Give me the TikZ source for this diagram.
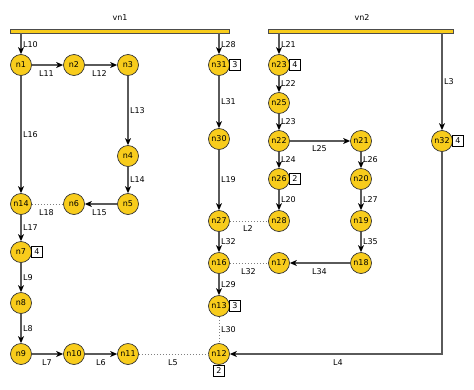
\documentclass[tikz,border=0pt]{standalone}
\usepackage{fontspec}
\setmainfont{DejaVu Sans}
\usetikzlibrary{arrows.meta}
\definecolor{gold}{RGB}{248,204,28}
\definecolor{edgegray}{RGB}{90,90,90}
\begin{document}
\begin{tikzpicture}[x=1pt,y=-1pt,font=\fontsize{8}{9.5}\selectfont,
  nd/.style={circle,draw=black!80,fill=gold,line width=0.7pt,minimum size=21pt,inner sep=0pt},
  bar/.style={draw=black!70,fill=gold,line width=0.6pt},
  tag/.style={draw=black,line width=0.6pt,fill=white,minimum width=11pt,minimum height=11pt,inner sep=0pt},
  ed/.style={draw=edgegray,line width=1.1pt,-{Stealth[length=7pt,width=6pt,inset=2pt,black]}},
  dt/.style={draw=gray,line width=1pt,dotted},
  lb/.style={inner sep=1pt,anchor=west}]
\useasboundingbox (0,0) rectangle (474,389);
% bars
\draw[bar] (10,29) rectangle (229,33);
\draw[bar] (268,29) rectangle (453,33);
\node at (120,18) {vn1};
\node at (362,18) {vn2};
\coordinate (b1) at (21,33);
\coordinate (b31) at (219,33);
\coordinate (b23) at (279,33);
\coordinate (b32) at (442,33);
\coordinate (c4) at (442,354);
% nodes
\node[nd] (n1) at (21,65) {n1};
\node[nd] (n2) at (74,65) {n2};
\node[nd] (n3) at (128,65) {n3};
\node[nd] (n31) at (219,65) {n31};
\node[nd] (n30) at (219,139) {n30};
\node[nd] (n4) at (128,156) {n4};
\node[nd] (n14) at (21,204) {n14};
\node[nd] (n6) at (74,204) {n6};
\node[nd] (n5) at (128,204) {n5};
\node[nd] (n7) at (21,252) {n7};
\node[nd] (n8) at (21,303) {n8};
\node[nd] (n9) at (21,354) {n9};
\node[nd] (n10) at (74,354) {n10};
\node[nd] (n11) at (128,354) {n11};
\node[nd] (n12) at (219,354) {n12};
\node[nd] (n27) at (219,221) {n27};
\node[nd] (n16) at (219,263) {n16};
\node[nd] (n13) at (219,306) {n13};
\node[nd] (n23) at (279,65) {n23};
\node[nd] (n25) at (279,103) {n25};
\node[nd] (n22) at (279,141) {n22};
\node[nd] (n21) at (361,141) {n21};
\node[nd] (n26) at (279,179) {n26};
\node[nd] (n20) at (361,179) {n20};
\node[nd] (n28) at (279,221) {n28};
\node[nd] (n19) at (361,221) {n19};
\node[nd] (n17) at (279,263) {n17};
\node[nd] (n18) at (361,263) {n18};
\node[nd] (n32) at (442,141) {n32};
% tags
\node[tag] (t31) at (235,65) {3};
\node[tag] (t7) at (37,252) {4};
\node[tag] (t12) at (219,371) {2};
\node[tag] (t13) at (235,306) {3};
\node[tag] (t23) at (295,65) {4};
\node[tag] (t26) at (295,179) {2};
\node[tag] (t32) at (458,141) {4};
% edges
\draw[ed] (b1) -- (n1);
\draw[ed] (b31) -- (n31);
\draw[ed] (n1) -- (n2);
\draw[ed] (n2) -- (n3);
\draw[ed] (n3) -- (n4);
\draw[ed] (n4) -- (n5);
\draw[ed] (n1) -- (n14);
\draw[ed] (n5) -- (n6);
\draw[dt] (n14) -- (n6);
\draw[ed] (n14) -- (n7);
\draw[ed] (n7) -- (n8);
\draw[ed] (n8) -- (n9);
\draw[ed] (n9) -- (n10);
\draw[ed] (n10) -- (n11);
\draw[dt] (n11) -- (n12);
\draw[ed] (n31) -- (n30);
\draw[ed] (n30) -- (n27);
\draw[dt] (n27) -- (n28);
\draw[ed] (n27) -- (n16);
\draw[dt] (n16) -- (n17);
\draw[ed] (n16) -- (n13);
\draw[dt] (n13) -- (n12);
\draw[ed] (b23) -- (n23);
\draw[ed] (n23) -- (n25);
\draw[ed] (n25) -- (n22);
\draw[ed] (n22) -- (n21);
\draw[ed] (n22) -- (n26);
\draw[ed] (n26) -- (n28);
\draw[ed] (n21) -- (n20);
\draw[ed] (n20) -- (n19);
\draw[ed] (n19) -- (n18);
\draw[ed] (n18) -- (n17);
\draw[ed] (b32) -- (n32);
\draw[ed] (n32) -- (c4) -- (n12);
% labels (west-anchored)
\node[lb] at (22,45) {L10};
\node[lb] at (220,45) {L28};
\node[lb] at (38,74) {L11};
\node[lb] at (91,74) {L12};
\node[lb] at (129,111) {L13};
\node[lb] at (129,180) {L14};
\node[lb] at (22,135) {L16};
\node[lb] at (91,213) {L15};
\node[lb] at (38,213) {L18};
\node[lb] at (22,228) {L17};
\node[lb] at (22,278) {L9};
\node[lb] at (22,329) {L8};
\node[lb] at (41,363) {L7};
\node[lb] at (95,363) {L6};
\node[lb] at (167,363) {L5};
\node[lb] at (220,102) {L31};
\node[lb] at (220,180) {L19};
\node[lb] at (242,229) {L2};
\node[lb] at (220,242) {L32};
\node[lb] at (240,272) {L32};
\node[lb] at (220,285) {L29};
\node[lb] at (220,330) {L30};
\node[lb] at (280,45) {L21};
\node[lb] at (280,84) {L22};
\node[lb] at (280,122) {L23};
\node[lb] at (311,149) {L25};
\node[lb] at (280,160) {L24};
\node[lb] at (280,200) {L20};
\node[lb] at (362,160) {L26};
\node[lb] at (362,200) {L27};
\node[lb] at (362,242) {L35};
\node[lb] at (311,272) {L34};
\node[lb] at (443,82) {L3};
\node[lb] at (332,363) {L4};
\end{tikzpicture}
\end{document}
